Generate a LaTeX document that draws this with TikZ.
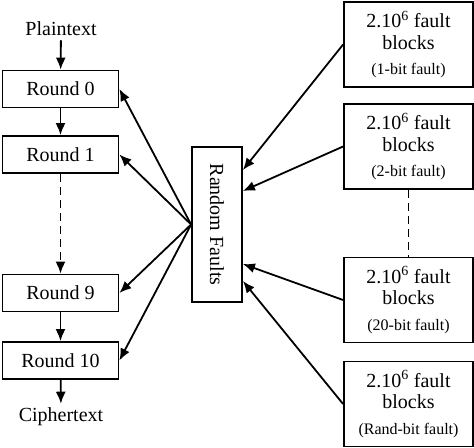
\documentclass[tikz,border=0pt]{standalone}
\usepackage{fontspec}
\setmainfont{Liberation Serif}
\usetikzlibrary{arrows.meta}
\begin{document}
\begin{tikzpicture}[x=1bp,y=-1bp,line width=1.8bp,>={Latex[length=12bp,width=10bp]},
every node/.style={font=\fontsize{20bp}{21.6bp}\selectfont},
rnd/.style={draw,minimum width=116bp,minimum height=37bp,inner sep=0pt},
blk/.style={draw,minimum width=129bp,minimum height=85bp,align=center,inner sep=0pt}]
\useasboundingbox(0,0)rectangle(474,448);
\node(p)at(61,29){Plaintext};
\node[rnd](r0)at(60.5,89){Round 0};
\node[rnd](r1)at(60.5,154.5){Round 1};
\node[rnd](r9)at(60.5,293){Round 9};
\node[rnd](r10)at(60.5,360.5){Round 10};
\node(c)at(61,417){Ciphertext};
\draw[->](p)--(r0);
\draw[->](r0)--(r1);
\draw[->,dash pattern=on 8bp off 5bp](r1)--(r9);
\draw[->](r9)--(r10);
\draw[->](r10)--(c);
\node[draw,rotate=-90,minimum width=155bp,minimum height=50bp](rf)at(217,224.5){Random Faults};
\foreach\r in{r0,r1,r9,r10}\draw[->](rf.south)--(\r.east);
\node[blk](f1)at(408.5,44.5){2.10\textsuperscript{6} fault\\blocks\\[4bp]{\fontsize{16bp}{18bp}\selectfont(1-bit fault)}};
\node[blk](f2)at(408.5,146.5){2.10\textsuperscript{6} fault\\blocks\\[4bp]{\fontsize{16bp}{18bp}\selectfont(2-bit fault)}};
\node[blk](f3)at(408.5,300){2.10\textsuperscript{6} fault\\blocks\\[4bp]{\fontsize{16bp}{18bp}\selectfont(20-bit fault)}};
\node[blk](f4)at(408.5,404){2.10\textsuperscript{6} fault\\blocks\\[4bp]{\fontsize{16bp}{18bp}\selectfont(Rand-bit fault)}};
\draw[dash pattern=on 8bp off 5bp](f2)--(f3);
\draw[->](f1.west)--([yshift=54.5bp]rf.north);
\draw[->](f2.west)--([yshift=33.5bp]rf.north);
\draw[->](f3.west)--([yshift=-39.5bp]rf.north);
\draw[->](f4.west)--([yshift=-56.5bp]rf.north);
\end{tikzpicture}
\end{document}
